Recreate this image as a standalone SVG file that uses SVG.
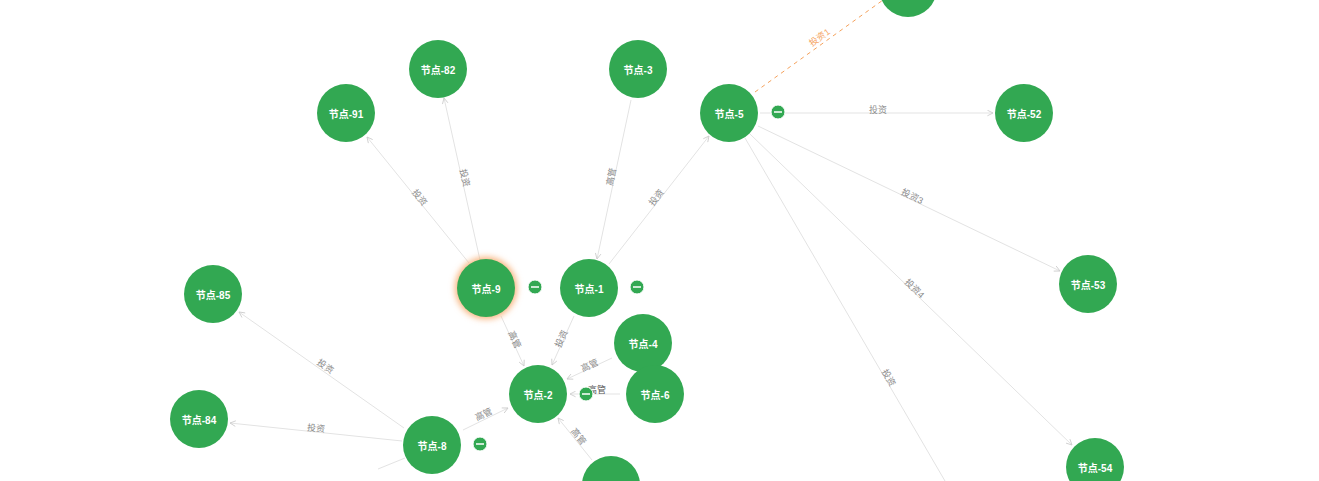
<svg xmlns="http://www.w3.org/2000/svg" width="1319" height="481" viewBox="0 0 1319 481">
<defs>
<marker id="ar" viewBox="0 0 10 10" refX="9" refY="5" markerWidth="7" markerHeight="7" orient="auto"><path d="M1,1 L9,5 L1,9" fill="none" stroke="#ccc" stroke-width="1.2"/></marker>
<filter id="glow" x="-50%" y="-50%" width="200%" height="200%"><feGaussianBlur stdDeviation="3"/></filter>
</defs>
<style>
.e{stroke:#e3e3e3;stroke-width:1;fill:none;marker-end:url(#ar)}
.el{font-family:"Liberation Sans","Noto Sans CJK SC",sans-serif;font-size:9px;fill:#8a8a8a;text-anchor:middle;dominant-baseline:middle}
.n circle{fill:#32a852}
.n text{font-family:"Liberation Sans","Noto Sans CJK SC",sans-serif;font-size:10px;fill:#fff;font-weight:bold;text-anchor:middle;dominant-baseline:central}
.b circle{fill:#32a852;stroke:#fff;stroke-width:1}
.b line{stroke:#fff;stroke-width:1.5}
</style>
<rect width="1319" height="481" fill="#fff"/>
<g id="connectors">
<line class="e" x1="469" y1="263" x2="367" y2="137"/>
<line class="e" x1="480" y1="260" x2="444" y2="98"/>
<line class="e" x1="631" y1="100" x2="597" y2="259"/>
<line class="e" x1="609" y1="264" x2="709" y2="136"/>
<line class="e" x1="760" y1="113" x2="993" y2="113"/>
<line class="e" x1="758" y1="126" x2="1060" y2="271"/>
<line class="e" x1="750" y1="134" x2="1072" y2="445"/>
<line x1="745" y1="138" x2="945" y2="481" stroke="#e3e3e3"/>
<line x1="755" y1="92" x2="890" y2="-5" stroke="#f5a25d" stroke-dasharray="4,4"/>
<line class="e" x1="501" y1="316" x2="524" y2="366"/>
<line class="e" x1="574" y1="316" x2="552" y2="365"/>
<line class="e" x1="612" y1="358" x2="567" y2="379"/>
<line class="e" x1="620" y1="394" x2="570" y2="394"/>
<line class="e" x1="463" y1="430" x2="508" y2="408"/>
<line class="e" x1="592" y1="460" x2="558" y2="418"/>
<line class="e" x1="404" y1="428" x2="239" y2="312"/>
<line class="e" x1="402" y1="441" x2="230" y2="423"/>
<line x1="405" y1="458" x2="378" y2="469" stroke="#e3e3e3"/>
<text class="el" transform="translate(419,198) rotate(51)">投资</text>
<text class="el" transform="translate(464,178) rotate(77)">投资</text>
<text class="el" transform="translate(612,177) rotate(-78)">高管</text>
<text class="el" transform="translate(657,198) rotate(-52)">投资</text>
<text class="el" x="878" y="111">投资</text>
<text class="el" transform="translate(912,197) rotate(26)">投资3</text>
<text class="el" transform="translate(914,289) rotate(44)">投资4</text>
<text class="el" transform="translate(888,378) rotate(60)">投资</text>
<text class="el" transform="translate(820,38) rotate(-36)" style="fill:#f5a25d">投资1</text>
<text class="el" transform="translate(514,340) rotate(65)">高管</text>
<text class="el" transform="translate(562,339) rotate(-66)">投资</text>
<text class="el" transform="translate(590,366) rotate(-25)">高管</text>
<text class="el" x="597" y="391" style="fill:#555">高管</text>
<text class="el" transform="translate(484,415) rotate(-26)">高管</text>
<text class="el" transform="translate(578,437) rotate(52)">高管</text>
<text class="el" transform="translate(325,367) rotate(35)">投资</text>
<text class="el" transform="translate(316,429) rotate(6)">投资</text>
</g>
<g id="node-82" class="n"><circle cx="438" cy="69" r="29"/><text x="438" y="70">节点-82</text></g>
<g id="node-3" class="n"><circle cx="638" cy="69" r="29"/><text x="638" y="70">节点-3</text></g>
<g id="node-91" class="n"><circle cx="346" cy="113" r="29"/><text x="346" y="114">节点-91</text></g>
<g id="node-5" class="n"><circle cx="729" cy="113" r="29"/><text x="729" y="114">节点-5</text></g>
<g id="node-52" class="n"><circle cx="1024" cy="113" r="29"/><text x="1024" y="114">节点-52</text></g>
<g id="node-top" class="n"><circle cx="908" cy="-12" r="29"/></g>
<g id="node-85" class="n"><circle cx="213" cy="294" r="29"/><text x="213" y="295">节点-85</text></g>
<g id="node-9" class="n"><circle cx="486" cy="288" r="31" fill="#f7b27a" filter="url(#glow)" style="fill:#f7b27a"/><circle cx="486" cy="288" r="29"/><text x="486" y="289">节点-9</text></g>
<g id="node-1" class="n"><circle cx="589" cy="288" r="29"/><text x="589" y="289">节点-1</text></g>
<g id="node-53" class="n"><circle cx="1088" cy="284" r="29"/><text x="1088" y="285">节点-53</text></g>
<g id="node-4" class="n"><circle cx="643" cy="343" r="29"/><text x="643" y="344">节点-4</text></g>
<g id="node-6" class="n"><circle cx="655" cy="394" r="29"/><text x="655" y="395">节点-6</text></g>
<g id="node-2" class="n"><circle cx="538" cy="394" r="29"/><text x="538" y="395">节点-2</text></g>
<g id="node-84" class="n"><circle cx="199" cy="419" r="29"/><text x="199" y="420">节点-84</text></g>
<g id="node-8" class="n"><circle cx="432" cy="445" r="29"/><text x="432" y="446">节点-8</text></g>
<g id="node-54" class="n"><circle cx="1095" cy="467" r="29"/><text x="1095" y="468">节点-54</text></g>
<g id="node-bottom" class="n"><circle cx="611" cy="485" r="29"/></g>
<g id="buttons">
<g class="b"><circle cx="535" cy="287" r="7"/><line x1="531" y1="287" x2="539" y2="287"/></g>
<g class="b"><circle cx="637" cy="287" r="7"/><line x1="633" y1="287" x2="641" y2="287"/></g>
<g class="b"><circle cx="778" cy="112" r="7"/><line x1="774" y1="112" x2="782" y2="112"/></g>
<g class="b"><circle cx="586" cy="394" r="7"/><line x1="582" y1="394" x2="590" y2="394"/></g>
<g class="b"><circle cx="480" cy="444" r="7"/><line x1="476" y1="444" x2="484" y2="444"/></g>
</g>
</svg>
